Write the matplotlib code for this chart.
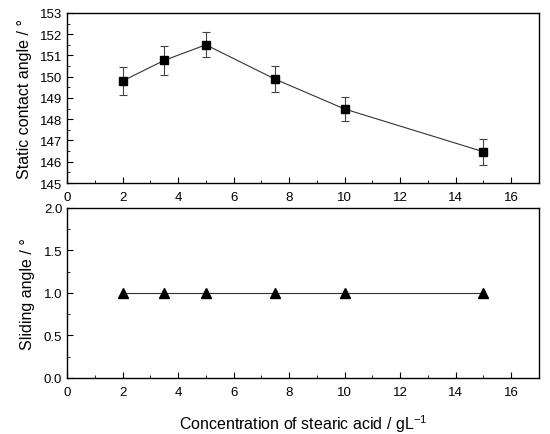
import matplotlib
matplotlib.use("Agg")
import matplotlib.pyplot as plt
from matplotlib.ticker import MultipleLocator

# concentration of stearic acid (g/L)
conc = [2, 3.5, 5, 7.5, 10, 15]
# static contact angle (deg) and its error
sca = [149.8, 150.77, 151.5, 149.88, 148.48, 146.47]
sca_err = [0.65, 0.67, 0.58, 0.62, 0.58, 0.62]
# sliding angle (deg)
sa = [1.0, 1.0, 1.0, 1.0, 1.0, 1.0]

plt.rcParams.update({"font.family": ["Liberation Sans", "DejaVu Sans"],
                     "axes.linewidth": 1.0})

fig = plt.figure(figsize=(5.5, 4.35), dpi=100)
ax1 = fig.add_axes([0.122, 0.577, 0.858, 0.391])
ax2 = fig.add_axes([0.122, 0.129, 0.858, 0.391])

ax1.errorbar(conc, sca, yerr=sca_err, fmt="s-", color="#333333", lw=0.8,
             ms=5.5, mfc="black", mec="black", ecolor="#444444",
             elinewidth=0.8, capsize=3, capthick=0.8)
ax1.set_ylim(145, 153)
ax1.yaxis.set_major_locator(MultipleLocator(1))
ax1.yaxis.set_minor_locator(MultipleLocator(0.5))
ax1.set_ylabel("Static contact angle / °", fontsize=11.5, labelpad=6)

ax2.plot(conc, sa, "^-", color="#333333", lw=0.8, ms=6.5,
         mfc="black", mec="black")
ax2.set_ylim(0, 2)
ax2.yaxis.set_major_locator(MultipleLocator(0.5))
ax2.yaxis.set_minor_locator(MultipleLocator(0.25))
ax2.yaxis.set_major_formatter(plt.FormatStrFormatter("%.1f"))
ax2.set_ylabel("Sliding angle / °", fontsize=11.5, labelpad=6)
ax2.set_xlabel("Concentration of stearic acid / gL$^{\\mathregular{-1}}$",
               fontsize=11.5, labelpad=10)

for ax in (ax1, ax2):
    ax.set_xlim(0, 17)
    ax.xaxis.set_major_locator(MultipleLocator(2))
    ax.xaxis.set_minor_locator(MultipleLocator(1))
    ax.tick_params(which="both", direction="in", top=False, right=False,
                   labelsize=9.5)
    ax.tick_params(axis="x", which="major", length=4, pad=6)
    ax.tick_params(axis="y", which="major", length=4, pad=3.5)
    ax.tick_params(which="minor", length=2)

fig.savefig("out.png", dpi=100)
